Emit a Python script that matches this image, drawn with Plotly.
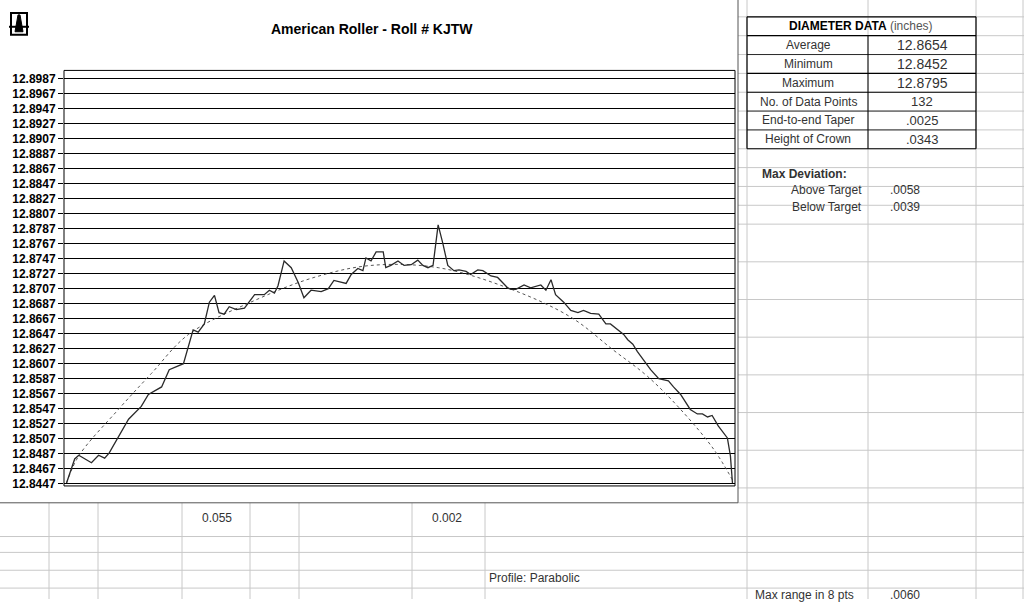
import plotly.graph_objects as go

W, H = 1024, 604

# measured roll diameter (point number along roll, inches)
point_no = [0, 1.6, 2.4, 4.9, 6.3, 7.5, 8.4, 10.2, 12.2, 14.7, 16.1, 18.7, 20.2, 23, 24.9,
            25.9, 27.1, 28.1, 29.1, 30, 31, 32, 33.4, 35, 37, 38.9, 39.9, 40.9, 41.6, 42.8,
            44.2, 45.6, 46.7, 48.1, 50.1, 51.5, 52.6, 55, 56, 57.3, 58.3, 58.9, 59.9, 60.9,
            62.3, 62.8, 63.8, 65.2, 66.4, 67.8, 69.1, 70.1, 71.1, 72.1, 73.1, 74, 75, 76.2,
            77.2, 78.6, 79.5, 80.9, 81.9, 83.5, 84.8, 86.8, 87.4, 88.4, 90, 91.3, 92.3, 93.3,
            94.3, 95.3, 96.2, 97.8, 99.2, 100.6, 101.7, 103.1, 104.7, 106.1, 107, 108.4,
            109.6, 110.4, 111.4, 112.3, 113.5, 114.9, 116.5, 118.4, 119.4, 120.8, 122.7,
            124.1, 125.1, 126.1, 127, 128.2, 130, 130.6, 131]
diameter = [12.8448, 12.8480, 12.8485, 12.8475, 12.8485, 12.8481, 12.8488, 12.8510, 12.8533,
            12.8550, 12.8566, 12.8576, 12.8599, 12.8607, 12.8652, 12.8649, 12.8660, 12.8689,
            12.8698, 12.8675, 12.8673, 12.8683, 12.8679, 12.8681, 12.8699, 12.8699, 12.8705,
            12.8701, 12.8711, 12.8744, 12.8735, 12.8715, 12.8695, 12.8705, 12.8703, 12.8707,
            12.8718, 12.8714, 12.8726, 12.8734, 12.8731, 12.8748, 12.8744, 12.8756, 12.8756,
            12.8735, 12.8738, 12.8744, 12.8738, 12.8739, 12.8745, 12.8738, 12.8735, 12.8738,
            12.8792, 12.8768, 12.8738, 12.8731, 12.8732, 12.8730, 12.8726, 12.8732, 12.8731,
            12.8724, 12.8722, 12.8708, 12.8706, 12.8706, 12.8712, 12.8708, 12.8710, 12.8712,
            12.8705, 12.8719, 12.8699, 12.8689, 12.8678, 12.8675, 12.8678, 12.8674, 12.8673,
            12.8660, 12.8660, 12.8653, 12.8646, 12.8639, 12.8633, 12.8623, 12.8612, 12.8599,
            12.8587, 12.8584, 12.8576, 12.8566, 12.8546, 12.8540, 12.8540, 12.8536, 12.8538,
            12.8524, 12.8508, 12.8484, 12.8448]

# parabolic target profile
target_no = [0, 2.4, 10.2, 16.7, 24, 36.9, 48.7, 59.9, 73.1, 86.8, 99.2, 107.6, 114.3,
             120.8, 127.3, 131]
target = [12.8448, 12.8484, 12.8546, 12.8594, 12.8646, 12.8691, 12.8722, 12.8738, 12.8735,
          12.8708, 12.8669, 12.8625, 12.8590, 12.8546, 12.8493, 12.8452]

y_ticks = [round(12.8447 + 0.002 * i, 4) for i in range(28)]

table_labels = ['Average', 'Minimum', 'Maximum', 'No. of Data Points',
                'End-to-end Taper', 'Height of Crown']
table_values = ['12.8654', '12.8452', '12.8795', '132', '.0025', '.0343']


def px(x):
    return x / W


def py(y):
    return 1 - y / H


GRID = '#c8c8c8'
TXT = '#333333'
FONT = 'Liberation Sans, Arial'

fig = go.Figure()
fig.add_trace(go.Scatter(x=target_no, y=target, mode='lines', hoverinfo='skip',
                         line={'color': '#555555', 'width': 1, 'dash': 'dot',
                               'shape': 'spline'}))
fig.add_trace(go.Scatter(x=point_no, y=diameter, mode='lines', hoverinfo='skip',
                         line={'color': '#2a2a2a', 'width': 1.3}))

shapes = []


def line(x0, y0, x1, y1, color=GRID, width=1, layer='below'):
    shapes.append(dict(type='line', xref='paper', yref='paper', x0=px(x0), y0=py(y0),
                       x1=px(x1), y1=py(y1), line={'color': color, 'width': width},
                       layer=layer))


# spreadsheet grid outside the chart
for x in [49, 98, 182, 250, 299, 412, 485]:
    line(x, 507, x, H)
for x in [747, 868, 976, 1023]:
    line(x, 0, x, H)
for y in [541, 557, 575, 593]:
    line(0, y, W, y)
for y in [17, 36, 55, 74, 93, 112, 131, 150, 169, 188, 207, 226, 264, 302, 340,
          378, 416, 454, 492, 507]:
    line(738, y, W, y)

# chart frame
line(738, 0, 738, 507, '#555555')
line(0, 507, 738, 507, '#555555')

# table
line(747, 17, 976, 17, 'black', 1.2, 'above')
for y in [36, 55, 74, 93, 112, 131, 150]:
    line(747, y, 976, y, 'black', 1.2 if y in (36, 74, 93, 150) else 0.8, 'above')
line(747, 17, 747, 150, 'black', 1.2, 'above')
line(976, 17, 976, 150, 'black', 1.2, 'above')
line(868, 36, 868, 150, 'black', 1, 'above')

# plot box
shapes.append(dict(type='rect', xref='paper', yref='paper', x0=px(64), x1=px(735),
                   y0=py(490), y1=py(71), line={'color': 'black', 'width': 1}))

# logo
shapes.append(dict(type='rect', xref='paper', yref='paper', x0=px(11), x1=px(27),
                   y0=py(35), y1=py(13), line={'color': 'black', 'width': 2}))
shapes.append(dict(type='path', xref='paper', yref='paper',
                   path=f'M {px(15)},{py(32)} L {px(18)},{py(15)} L {px(20)},{py(15)} '
                        f'L {px(23)},{py(32)} Z',
                   fillcolor='black', line={'color': 'black', 'width': 1}))
line(9, 27, 29, 27, 'black', 2, 'above')

ann = []


def text(x, y, s, size=12, anchor='left', bold=False, color=TXT):
    ann.append(dict(xref='paper', yref='paper', x=px(x), y=py(y), text=f'<b>{s}</b>' if bold else s,
                    showarrow=False, xanchor=anchor, yanchor='middle',
                    font={'size': size, 'color': color, 'family': FONT}))


text(372, 29, 'American Roller - Roll # KJTW', 14, 'center', True, 'black')
text(861, 26, '<b>DIAMETER DATA</b> <span style="color:#555">(inches)</span>', 12, 'center',
     color='black')
for i, (lab, val) in enumerate(zip(table_labels, table_values)):
    yc = 45.5 + 19 * i
    text(808, yc, lab, 12, 'center')
    text(922, yc, val, 14 if i < 3 else 13, 'center')
text(760, 175, 'Max Deviation:', 12, 'left', True)
text(864, 192, 'Above Target', 12, 'right')
text(905, 192, '.0058', 12, 'center')
text(864, 209, 'Below Target', 12, 'right')
text(905, 209, '.0039', 12, 'center')
text(217, 522, '0.055', 12, 'center')
text(447, 522, '0.002', 12, 'center')
text(487, 583, 'Profile: Parabolic', 12, 'left')
text(753, 600, 'Max range in 8 pts', 12, 'left')
text(905, 600, '.0060', 12, 'center')

fig.update_layout(
    width=W, height=H, margin=dict(l=0, r=0, t=0, b=0),
    paper_bgcolor='white', plot_bgcolor='white', showlegend=False,
    shapes=shapes, annotations=ann,
    xaxis=dict(domain=[px(64), px(735)], range=[-0.5, 131.5], showgrid=False,
               showticklabels=False, zeroline=False, fixedrange=True),
    yaxis=dict(domain=[py(490), py(71)], range=[12.8444, 12.8998], tickvals=y_ticks,
               ticktext=[f'{v:.4f}' for v in y_ticks], showgrid=True, gridcolor='black',
               gridwidth=1, zeroline=False, ticks='outside', ticklen=5, tickcolor='black',
               tickfont={'size': 12, 'color': 'black', 'family': 'Liberation Sans, Arial',
                         'weight': 'bold'}, fixedrange=True),
)
fig.write_html('out.html', config={'displayModeBar': False},
               post_script="document.body.style.margin='0';document.body.style.overflow='hidden';")
